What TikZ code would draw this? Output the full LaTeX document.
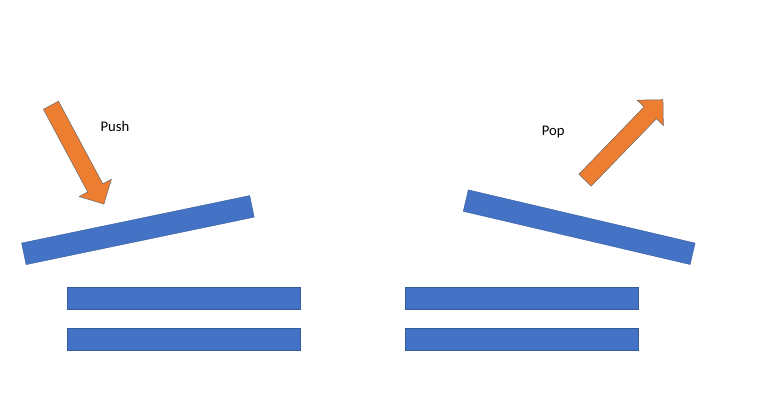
\documentclass[tikz,border=0pt]{standalone}
\usepackage{fontspec}
\setmainfont{Carlito}
\usetikzlibrary{shapes.arrows}
\definecolor{barblue}{HTML}{4472C4}
\definecolor{arroworange}{HTML}{ED7D31}
\tikzset{
	bar/.style={rectangle, draw=barblue!80!black, line width=0.4pt, fill=barblue, minimum width=233pt, minimum height=22pt, inner sep=0pt},
	bigarrow/.style={single arrow, draw=gray!80!black, line width=0.5pt, fill=arroworange, minimum height=112pt, single arrow head extend=9.7pt, inner xsep=0pt, inner ysep=8.3pt},
	label/.style={font=\fontsize{14.7}{17}\selectfont}
}
\begin{document}
\begin{tikzpicture}[x=1pt, y=-1pt]
			\useasboundingbox (0,0) rectangle (768,401);
			\foreach[count=\i] \x in {183.3, 521.7}{
				\node[bar] (stack\i top) at (\x, 298) {};
				\node[bar] (stack\i bottom) at (\x, 338.7) {};};
			\node[bar, rotate=11.76] (pushbar) at (137.9, 230.1) {};
			\node[bar, rotate=-13.2] (popbar) at (579.2, 227.2) {};
			\node[bigarrow, rotate=-61.8] (pusharrow) at (75.4, 150.9) {};
			\node[bigarrow, rotate=45.9] (poparrow) at (621, 143) {};
			\node[label] (push) at (115, 126) {Push};
			\node[label] (pop) at (553.3, 132) {Pop};
		\end{tikzpicture}
\end{document}
